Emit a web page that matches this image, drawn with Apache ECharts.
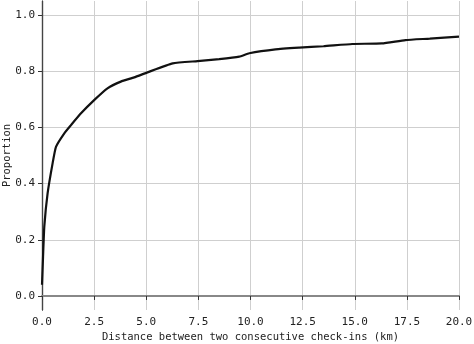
<!DOCTYPE html>
<html>
<head>
<meta charset="utf-8">
<script src="https://cdn.jsdelivr.net/npm/echarts@6/dist/echarts.min.js"></script>
<style>
  html, body { margin: 0; padding: 0; background: #fff; }
  #chart { width: 474px; height: 344px; }
</style>
</head>
<body>
<div id="chart"></div>
<script>
// distance between check-ins (km) and cumulative proportion
const distances = [0, 0.05, 0.11, 0.27, 0.51, 0.67, 1.07, 1.39, 1.87, 2.5, 3.14, 3.78, 4.42, 5.06,
  6.27, 7.46, 8.5, 9.46, 9.94, 11.2, 12.33, 13.5, 14.88, 16.3, 17.43, 18.6, 20];
const proportions = [0.04, 0.14, 0.247, 0.366, 0.473, 0.531, 0.579, 0.608, 0.65, 0.697, 0.739, 0.763, 0.778, 0.796,
  0.828, 0.836, 0.843, 0.852, 0.864, 0.878, 0.884, 0.889, 0.897, 0.899, 0.911, 0.916, 0.923];
const yTicks = [0, 0.2, 0.4, 0.6, 0.8, 1.0];

const font = 'DejaVu Sans Mono';
const chart = echarts.init(document.getElementById('chart'));

chart.setOption({
  animation: false,
  textStyle: { fontFamily: font },
  grid: { left: 42, right: 15, top: 1, bottom: 34, show: false,
    containLabel: false, outerBoundsMode: 'none' },
  xAxis: [{
    type: 'value',
    min: 0,
    max: 20,
    interval: 2.5,
    name: 'Distance between two consecutive check-ins (km)',
    nameLocation: 'middle',
    nameGap: 22,
    nameMoveOverlap: false,
    nameTextStyle: { fontFamily: font, fontSize: 10.5, color: '#222' },
    axisLine: { lineStyle: { color: '#333', width: 1.2 } },
    axisTick: { show: true, length: 4, lineStyle: { color: '#333' } },
    axisLabel: { fontFamily: font, fontSize: 11, color: '#222', margin: 7,
      formatter: v => v.toFixed(1) },
    splitLine: { show: true, lineStyle: { color: '#cfcfcf', width: 1 } }
  }, {
    type: 'value',
    position: 'top',
    min: 0,
    max: 20,
    axisLine: { show: true, lineStyle: { color: '#888', width: 2 } },
    axisTick: { show: false },
    axisLabel: { show: false },
    splitLine: { show: false }
  }],
  yAxis: [{
    type: 'value',
    min: -0.05,
    max: 1.05,
    name: 'Proportion',
    nameLocation: 'middle',
    nameGap: 29,
    nameMoveOverlap: false,
    nameTextStyle: { fontFamily: font, fontSize: 10.5, color: '#222' },
    axisLine: { show: true, lineStyle: { color: '#333', width: 1.2 } },
    axisTick: { show: true, length: 4, customValues: yTicks, lineStyle: { color: '#333' } },
    axisLabel: { fontFamily: font, fontSize: 11, color: '#222', margin: 7,
      customValues: yTicks, formatter: v => v.toFixed(1) },
    splitLine: { show: true, lineStyle: { color: '#cfcfcf', width: 1 } }
  }, {
    type: 'value',
    position: 'right',
    min: -0.05,
    max: 1.05,
    axisLine: { show: true, lineStyle: { color: '#444', width: 1.2 } },
    axisTick: { show: false },
    axisLabel: { show: false },
    splitLine: { show: false }
  }],
  series: [{
    type: 'line',
    data: distances.map((d, i) => [d, proportions[i]]),
    showSymbol: false,
    smooth: 0.15,
    lineStyle: { color: '#111', width: 2.2 }
  }]
});
</script>
</body>
</html>
